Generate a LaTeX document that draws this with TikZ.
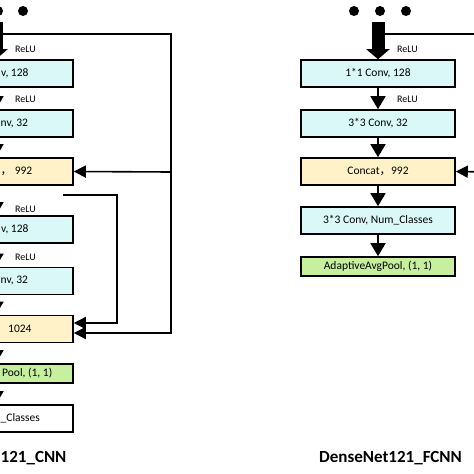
\documentclass[tikz,border=0pt]{standalone}
\usepackage{fontspec}
\setmainfont{Carlito}
\newfontfamily\cjk{Noto Sans CJK SC}
\usetikzlibrary{arrows.meta}

\definecolor{convcyan}{RGB}{218,248,248}
\definecolor{catyellow}{RGB}{255,242,200}
\definecolor{poolgreen}{RGB}{198,240,158}

\begin{document}
\begin{tikzpicture}[x=1pt,y=-1pt,
    box/.style={draw,line width=1.6pt,minimum width=154pt,minimum height=27pt,inner sep=0pt,font=\fontsize{11.5}{13}\selectfont},
    conv/.style={box,fill=convcyan},
    cat/.style={box,fill=catyellow},
    pool/.style={box,fill=poolgreen,minimum height=19pt},
    fc/.style={box,fill=white},
    frag/.style={anchor=west,inner sep=0pt,font=\fontsize{11.5}{13}\selectfont},
    relu/.style={anchor=west,inner sep=0pt,font=\fontsize{10}{11}\selectfont},
    dot/.style={circle,fill,inner sep=0pt,minimum size=10pt},
    flow/.style={line width=1.6pt,-{Triangle[width=15pt,length=13pt]}},
    fat/.style={line width=13pt,-{Triangle[width=23pt,length=10pt]}},
    skip/.style={line width=1.6pt,-{Triangle[width=12pt,length=12pt]}},
    title/.style={inner sep=0pt,font=\fontsize{17}{20}\selectfont\bfseries}]

  \useasboundingbox (0,0) rectangle (474,474);
  \clip (0,0) rectangle (474,474);

  % left column (DenseNet121_CNN)
  \node[dot] (ld1) at (-2,11) {};
  \node[dot] (ld2) at (23,11) {};

  \node[conv] (l1) at (-4,73.5) {};
  \node[conv] (l2) at (-4,123.5) {};
  \node[cat]  (l3) at (-4,171.5) {};
  \node[conv] (l4) at (-4,229.5) {};
  \node[conv] (l5) at (-4,281) {};
  \node[cat]  (l6) at (-4,329) {};
  \node[pool] (l7) at (-4,373.5) {};
  \node[fc]   (l8) at (-4,418.5) {};

  \node[frag] (lt1) at (1,73.5) {v, 128};
  \node[frag] (lt2) at (0.5,123.5) {nv, 32};
  \node[frag] (lt3) at (0.5,171.5) {{\cjk ，} 992};
  \node[frag] (lt4) at (1,229.5) {v, 128};
  \node[frag] (lt5) at (0.5,281) {nv, 32};
  \node[frag] (lt6) at (8,329) {1024};
  \node[frag] (lt7) at (2,373.5) {Pool, (1, 1)};
  \node[frag] (lt8) at (0.5,418.5) {\_Classes};

  \node[relu] (lr1) at (15,49) {ReLU};
  \node[relu] (lr2) at (15,99) {ReLU};
  \node[relu] (lr3) at (15,209) {ReLU};
  \node[relu] (lr4) at (15,257) {ReLU};

  \node[title,anchor=west] (ltitle) at (0.5,458) {121\_CNN};

  \coordinate (lin) at (-4,22);
  \coordinate (lj) at (-4,34);
  \coordinate (lk) at (171,172);
  \coordinate (lm) at (63,195);

  \draw[skip] (lj) -- (171,34) -- (171,333) -- ([yshift=-4pt]l6.east);
  \draw[skip] (lk) -- (l3.east);
  \draw[skip] (lm) -- (117,195) -- (117,323) -- ([yshift=6pt]l6.east);

  \draw[fat] (lin) -- (l1.north);
  \draw[flow] (l1) -- (l2);
  \draw[flow] (l2) -- (l3);
  \draw[flow] (l3) -- (l4);
  \draw[flow] (l4) -- (l5);
  \draw[flow] (l5) -- (l6);
  \draw[flow] (l6) -- (l7);
  \draw[flow] (l7) -- (l8);

  % right column (DenseNet121_FCNN)
  \node[dot] (rd1) at (354,11) {};
  \node[dot] (rd2) at (380,11) {};
  \node[dot] (rd3) at (406,11) {};

  \node[conv] (r1) at (378,73.5) {1*1 Conv, 128};
  \node[conv] (r2) at (378,123.5) {3*3 Conv, 32};
  \node[cat]  (r3) at (378,171.5) {Concat{\cjk ，}992};
  \node[conv] (r4) at (378,220.5) {3*3 Conv, Num\_Classes};
  \node[pool] (r5) at (378,266.5) {AdaptiveAvgPool, (1, 1)};

  \node[relu] (rr1) at (397,49) {ReLU};
  \node[relu] (rr2) at (397,99) {ReLU};

  \node[title] (rtitle) at (390.5,458) {DenseNet121\_FCNN};

  \coordinate (rin) at (378,22);
  \coordinate (rj) at (378,34);
  \coordinate (rk) at (490,172);

  \draw[line width=1.6pt] (rj) -- (490,34);
  \draw[skip] (rk) -- (r3.east);

  \draw[fat] (rin) -- (r1.north);
  \draw[flow] (r1) -- (r2);
  \draw[flow] (r2) -- (r3);
  \draw[flow] (r3) -- (r4);
  \draw[flow] (r4) -- (r5);

\end{tikzpicture}
\end{document}
